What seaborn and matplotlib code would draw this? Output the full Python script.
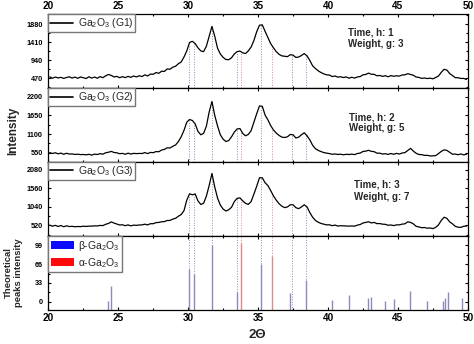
import numpy as np
import matplotlib
matplotlib.use("Agg")
import matplotlib.pyplot as plt
from matplotlib.ticker import MultipleLocator
from matplotlib.patches import Patch
from matplotlib.lines import Line2D
import seaborn as sns

# ---------------- data ----------------
# 2-theta sampling grid (uniform 0.2 deg step, 20.1 ... 49.9)
two_theta = np.round(20.1 + 0.2 * np.arange(150), 1)

g1 = [502, 468, 497, 475, 490, 462, 486, 504, 471, 497,
      464, 500, 478, 459, 505, 470, 498, 466, 509, 481,
      530, 565, 540, 500, 515, 480, 508, 482, 515, 490,
      525, 500, 532, 510, 555, 525, 575, 570, 615, 595,
      650, 645, 710, 700, 755, 780, 845, 890, 1020, 1180,
      1400, 1430, 1370, 1260, 1180, 1160, 1300, 1560, 1820, 1560,
      1250, 1100, 1010, 955, 950, 1000, 1100, 1160, 1175, 1130,
      1110, 1180, 1280, 1450, 1680, 1850, 1860, 1690, 1530, 1370,
      1260, 1160, 1090, 1050, 1040, 1030, 1080, 1070, 1010, 1020,
      1060, 1110, 1050, 930, 790, 720, 660, 615, 580, 555,
      550, 510, 525, 495, 505, 485, 500, 468, 492, 470,
      500, 510, 555, 565, 600, 570, 568, 530, 540, 515,
      532, 505, 535, 518, 530, 522, 552, 555, 585, 565,
      545, 498, 488, 462, 472, 458, 468, 452, 485, 525,
      620, 700, 680, 590, 535, 482, 480, 460, 462, 435]

g2 = [555, 528, 550, 518, 540, 505, 535, 512, 515, 500,
      508, 495, 500, 488, 505, 480, 510, 498, 525, 508,
      550, 565, 590, 558, 548, 522, 532, 505, 538, 512,
      532, 525, 530, 528, 555, 525, 560, 552, 585, 580,
      630, 650, 695, 690, 740, 780, 880, 1020, 1210, 1450,
      1530, 1500, 1400, 1180, 1080, 1120, 1330, 1750, 2060, 1650,
      1340, 1080, 950, 880, 910, 1020, 1160, 1250, 1265, 1120,
      1050, 1090, 1200, 1450, 1700, 1930, 1920, 1660, 1520, 1350,
      1220, 1130, 1060, 1010, 1000, 1020, 1090, 1080, 985, 1010,
      1080, 1140, 1050, 930, 770, 670, 620, 585, 555, 540,
      525, 505, 515, 500, 508, 490, 505, 498, 510, 495,
      528, 540, 588, 598, 622, 592, 582, 538, 538, 512,
      522, 502, 528, 505, 532, 512, 542, 555, 615, 680,
      600, 535, 498, 495, 472, 475, 455, 460, 465, 525,
      590, 635, 620, 565, 508, 512, 492, 515, 488, 505]

g3 = [528, 498, 522, 490, 518, 482, 510, 488, 495, 482,
      490, 486, 498, 492, 500, 500, 508, 505, 520, 515,
      552, 575, 620, 585, 558, 532, 538, 512, 535, 508,
      528, 522, 532, 535, 555, 535, 568, 568, 598, 605,
      622, 628, 658, 660, 698, 720, 778, 825, 935, 1230,
      1410, 1380, 1405, 1210, 1110, 1140, 1340, 1640, 1980, 1600,
      1290, 1090, 980, 925, 960, 1030, 1190, 1280, 1295, 1210,
      1140, 1110, 1190, 1400, 1620, 1860, 1860, 1720, 1640, 1500,
      1350, 1230, 1130, 1060, 1020, 1040, 1100, 1100, 1020, 990,
      1040, 1100, 1040, 880, 750, 660, 610, 575, 555, 535,
      538, 512, 530, 502, 512, 508, 505, 500, 505, 498,
      528, 545, 588, 605, 622, 590, 605, 570, 572, 555,
      550, 525, 532, 515, 536, 535, 556, 565, 620, 605,
      565, 495, 478, 455, 462, 442, 448, 430, 465, 535,
      660, 750, 720, 620, 565, 495, 470, 465, 495, 500]

sample_labels = ["Ga$_2$O$_3$ (G1)", "Ga$_2$O$_3$ (G2)", "Ga$_2$O$_3$ (G3)"]
time_h = [1, 2, 3]
weight_g = [3, 5, 7]

# theoretical reference peaks
beta_pos = [24.26, 24.5, 30.05, 30.45, 31.7, 33.5, 35.2, 37.3, 38.4, 40.25, 41.48,
            42.85, 43.05, 44.05, 44.75, 45.85, 47.05, 48.25, 48.4, 48.6, 49.55]
beta_int = [2, 27, 57, 48, 99, 18, 67, 16, 39, 4, 12,
            7, 9, 2, 5, 19, 1, 2, 6, 17, 7]
alpha_pos = [33.8, 36.0]
alpha_int = [102, 80]

# guide lines
beta_guides = [30.05, 30.45, 31.7, 33.5, 35.2, 37.4, 38.4]
alpha_guides = [33.8, 36.0]

yticks = [[470, 940, 1410, 1880], [550, 1100, 1650, 2200], [520, 1040, 1560, 2080]]
ylims = [(210, 2140), (277, 2456), (223, 2302)]
ref_ticks = [0, 33, 66, 99]
ref_ylim = (-14, 115)

# ---------------- style ----------------
sns.set_theme(style="ticks")
plt.rcParams["font.family"] = ["Liberation Sans", "DejaVu Sans"]
plt.rcParams["mathtext.fontset"] = "custom"
plt.rcParams["mathtext.rm"] = "Liberation Sans"
plt.rcParams["mathtext.default"] = "regular"

BETA_C = "#8a8abb"
ALPHA_C = "#d98c8c"

fig = plt.figure(figsize=(4.74, 3.44), dpi=100)
gs = fig.add_gridspec(4, 1, hspace=0, left=0.102, right=0.987, top=0.959, bottom=0.099)
axes = [fig.add_subplot(gs[i]) for i in range(4)]

curves = [g1, g2, g3]
text_pos = [(0.714, 0.757, 0.595), (0.716, 0.608, 0.459), (0.728, 0.692, 0.531)]

for i, ax in enumerate(axes[:3]):
    y = np.asarray(curves[i], dtype=float)
    ax.set_ylim(*ylims[i])
    lo = ylims[i][0]
    ax.vlines(beta_guides, lo, np.interp(beta_guides, two_theta, y),
              colors=BETA_C, linestyles=":", linewidth=0.7, zorder=1)
    ax.vlines(alpha_guides, lo, np.interp(alpha_guides, two_theta, y),
              colors=ALPHA_C, linestyles=":", linewidth=0.7, zorder=1)
    sns.lineplot(x=two_theta, y=y, ax=ax, color="black", linewidth=0.9,
                 legend=False, zorder=3)
    ax.set_yticks(yticks[i])
    step = yticks[i][0] / 2
    ax.yaxis.set_minor_locator(MultipleLocator(step))
    h = [Line2D([0], [0], color="black", lw=1.2)]
    ax.legend(h, [sample_labels[i]], loc="upper left", bbox_to_anchor=(0, 1),
              borderaxespad=0, frameon=True, fancybox=False, edgecolor="#777777",
              fontsize=7.5, handlelength=2.2, handletextpad=0.4, borderpad=0.2,
              framealpha=1)
    tx, ty1, ty2 = text_pos[i]
    ax.text(tx, ty1, f"Time, h: {time_h[i]}", transform=ax.transAxes,
            fontsize=7, fontweight="bold", va="center", ha="left")
    ax.text(tx, ty2, f"Weight, g: {weight_g[i]}", transform=ax.transAxes,
            fontsize=7, fontweight="bold", va="center", ha="left")

# theoretical panel
axr = axes[3]
axr.set_ylim(*ref_ylim)
axr.vlines(beta_guides, ref_ylim[0], ref_ylim[1], colors=BETA_C, linestyles=":",
           linewidth=0.7, zorder=1)
axr.vlines(alpha_guides, ref_ylim[0], ref_ylim[1], colors=ALPHA_C, linestyles=":",
           linewidth=0.7, zorder=1)
axr.vlines(beta_pos, ref_ylim[0], beta_int, colors=BETA_C, linewidth=1.0, zorder=2)
axr.vlines(alpha_pos, ref_ylim[0], alpha_int, colors=ALPHA_C, linewidth=1.0, zorder=2)
axr.set_yticks(ref_ticks)
axr.yaxis.set_minor_locator(MultipleLocator(16.5))
ph = [Patch(facecolor="#0a0aff", edgecolor="none"), Patch(facecolor="#ff0a0a", edgecolor="none")]
axr.legend(ph, ["β-Ga$_2$O$_3$", "α-Ga$_2$O$_3$"], loc="upper left", bbox_to_anchor=(0, 1),
           borderaxespad=0, frameon=True, fancybox=False, edgecolor="#777777",
           fontsize=7.5, handlelength=2.2, handleheight=0.9, handletextpad=0.4,
           borderpad=0.25, labelspacing=0.3, framealpha=1)

for i, ax in enumerate(axes):
    ax.set_xlim(20, 50)
    ax.xaxis.set_major_locator(MultipleLocator(5))
    ax.xaxis.set_minor_locator(MultipleLocator(2.5))
    ax.tick_params(which="both", direction="in", top=True, right=True,
                   bottom=True, left=True, width=0.8, colors="black")
    ax.tick_params(which="major", length=2.5)
    ax.tick_params(which="minor", length=1.5)
    ax.tick_params(axis="y", labelsize=5.2, pad=4)
    ax.tick_params(axis="x", labelsize=7.2, pad=2.5,
                   labeltop=(i == 0), labelbottom=(i == 3))
    for lab in ax.get_xticklabels() + ax.get_yticklabels():
        lab.set_fontweight("bold")
    for s in ax.spines.values():
        s.set_linewidth(0.9)
        s.set_color("black")
    ax.set_xlabel("")
    ax.set_ylabel("")
    ax.grid(False)

fig.text(0.027, 0.62, "Intensity", rotation=90, ha="center", va="center",
         fontsize=8.5, fontweight="bold")
fig.text(0.028, 0.208, "Theoretical\npeaks intensity", rotation=90, ha="center",
         va="center", fontsize=6.8, fontweight="bold", linespacing=1.1)
fig.text(0.542, 0.025, "2Θ", ha="center", va="center", fontsize=9.5, fontweight="bold")

fig.savefig("out.png", dpi=100)
